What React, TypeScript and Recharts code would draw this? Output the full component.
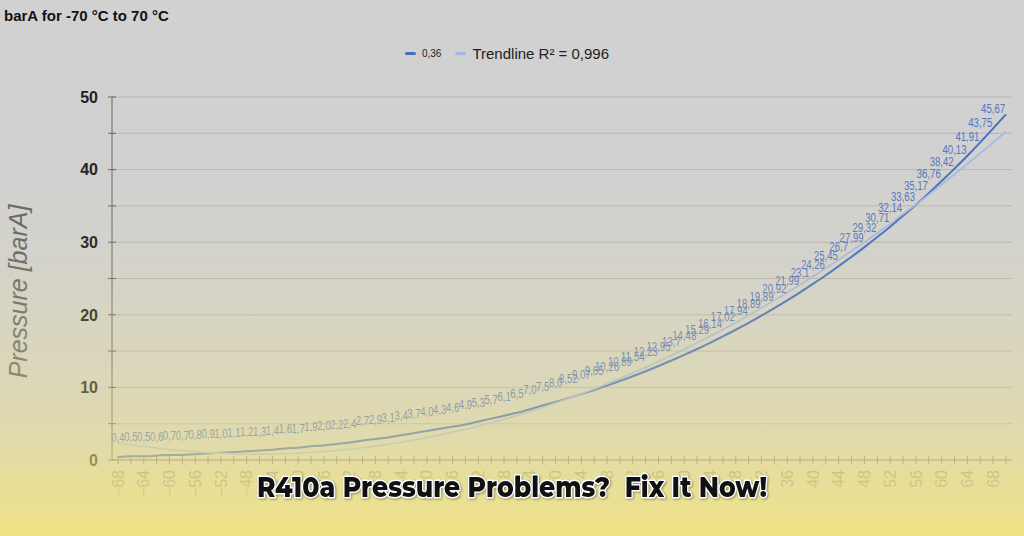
import React from 'react';
import { LineChart, Line, XAxis, YAxis, CartesianGrid, Legend, LabelList } from 'recharts';

const temperatures = [-68, -66, -64, -62, -60, -58, -56, -54, -52, -50, -48, -46, -44, -42, -40, -38, -36, -34, -32, -30, -28, -26, -24, -22, -20, -18, -16, -14, -12, -10, -8, -6, -4, -2, 0, 2, 4, 6, 8, 10, 12, 14, 16, 18, 20, 22, 24, 26, 28, 30, 32, 34, 36, 38, 40, 42, 44, 46, 48, 50, 52, 54, 56, 58, 60, 62, 64, 66, 68, 70];
const pressures = [0.4, 0.5, 0.5, 0.6, 0.7, 0.7, 0.8, 0.9, 1.0, 1.1, 1.2, 1.3, 1.4, 1.6, 1.7, 1.9, 2.0, 2.2, 2.4, 2.7, 2.9, 3.1, 3.4, 3.7, 4.0, 4.3, 4.6, 4.9, 5.3, 5.7, 6.1, 6.5, 7.0, 7.5, 8.0, 8.52, 9.07, 9.65, 10.26, 10.89, 11.54, 12.23, 12.95, 13.7, 14.48, 15.29, 16.14, 17.02, 17.94, 18.89, 19.89, 20.92, 21.99, 23.1, 24.26, 25.45, 26.7, 27.99, 29.32, 30.71, 32.14, 33.63, 35.17, 36.76, 38.42, 40.13, 41.91, 43.75, 45.67, 47.6];
const trendline = [2.37, 2.09, 1.85, 1.63, 1.43, 1.27, 1.13, 1.01, 0.92, 0.86, 0.82, 0.81, 0.83, 0.87, 0.94, 1.04, 1.16, 1.31, 1.48, 1.68, 1.91, 2.16, 2.44, 2.75, 3.08, 3.44, 3.83, 4.24, 4.67, 5.14, 5.63, 6.14, 6.69, 7.26, 7.85, 8.47, 9.12, 9.79, 10.49, 11.22, 11.97, 12.75, 13.56, 14.39, 15.25, 16.13, 17.04, 17.98, 18.94, 19.93, 20.95, 21.99, 23.06, 24.15, 25.27, 26.42, 27.59, 28.79, 30.02, 31.27, 32.55, 33.86, 35.19, 36.55, 37.93, 39.34, 40.78, 42.24, 43.73, 45.24];
const yTicks = [0, 5, 10, 15, 20, 25, 30, 35, 40, 45, 50];
const seriesNames = ['0,36', 'Trendline R² = 0,996'];
const chartTitle = 'barA for -70 °C to 70 °C';
const yAxisTitle = 'Pressure [barA]';
const headline = 'R410a Pressure Problems?  Fix It Now!';

const data = temperatures.map((t, i) => ({ t, p: pressures[i], trend: trendline[i] }));

const MAIN = '#4570c6';
const TREND = '#a3b7e0';

const fmtComma = (v: number) => (Number.isInteger(v) ? v.toFixed(1) : String(v)).replace('.', ',');
const fmtTemp = (v: number) => (v < 0 ? '\u2212' + Math.abs(v) : String(v));

const XTick = (props: any) => {
  const { x, y, payload, index } = props;
  const axisY = y - 10;
  return (
    <g>
      <line x1={x} x2={x} y1={axisY - 4} y2={axisY + 4} stroke="#777" strokeWidth={1} />
      {index % 2 === 0 && (
        <text
          x={x}
          y={y}
          transform={`rotate(-90 ${x} ${y})`}
          textAnchor="end"
          dy="0.35em"
          fontSize={16}
          fontFamily="'Liberation Sans', Arial, sans-serif"
          fill="#8c8c8c"
        >
          {fmtTemp(payload.value)}
        </text>
      )}
    </g>
  );
};

const YTick = (props: any) => {
  const { x, y, payload } = props;
  const axisX = x + 14;
  return (
    <g>
      <line x1={axisX - 4} x2={axisX + 4} y1={y} y2={y} stroke="#666" strokeWidth={1} />
      {payload.value % 10 === 0 && (
        <text
          x={x}
          y={y}
          textAnchor="end"
          dy="0.36em"
          fontSize={16}
          fontWeight="bold"
          fontFamily="'Liberation Sans', Arial, sans-serif"
          fill="#222"
        >
          {payload.value}
        </text>
      )}
    </g>
  );
};

const DataLabel = (props: any) => {
  const { x, y, value, index } = props;
  if (index === pressures.length - 1) return null;
  const s = fmtComma(value);
  const fs = 12;
  let em = 0;
  for (const ch of s) em += ch === ',' ? 0.278 : 0.556;
  const len = em * fs * 0.8;
  return (
    <text
      x={x}
      y={y - 15}
      textAnchor="middle"
      fontSize={fs}
      textLength={len}
      lengthAdjust="spacingAndGlyphs"
      fontFamily="'Liberation Sans', Arial, sans-serif"
      fill="#5474c4"
    >
      {s}
    </text>
  );
};

const LegendContent = (props: any) => {
  const payload = props.payload || [];
  return (
    <div style={{ display: 'flex', justifyContent: 'center', alignItems: 'center', fontFamily: "'Liberation Sans', Arial, sans-serif", color: '#222' }}>
      {payload.map((entry: any, i: number) => (
        <div key={i} style={{ display: 'flex', alignItems: 'center', marginRight: i === 0 ? 14 : 0 }}>
          <span style={{ display: 'inline-block', width: 11, height: 3, borderRadius: 2, background: entry.color, marginRight: 6 }} />
          <span style={{ fontSize: i === 0 ? 10 : 15 }}>{entry.value}</span>
        </div>
      ))}
    </div>
  );
};

const YLabel = (p: any) => {
  const vb = p.viewBox || { y: 97, height: 363 };
  const cy = vb.y + vb.height / 2 + 13;
  return (
    <text
      x={18}
      y={cy}
      transform={`rotate(-90 18 ${cy})`}
      textAnchor="middle"
      dy="0.35em"
      fontSize={25}
      fontStyle="italic"
      fontFamily="'Liberation Sans', Arial, sans-serif"
      fill="#666"
    >
      {yAxisTitle}
    </text>
  );
};

export default function App() {
  return (
    <div style={{ position: 'absolute', left: 0, top: 0, width: 1024, height: 536, background: '#d1d1d1', overflow: 'hidden' }}>
      <div style={{ position: 'absolute', left: 4, top: 7, fontFamily: "'Liberation Sans', Arial, sans-serif", fontWeight: 'bold', fontSize: 15, color: '#111' }}>
        {chartTitle}
      </div>
      <LineChart width={1024} height={536} data={data} margin={{ top: 97, right: 12, bottom: 36, left: 0 }}>
        <CartesianGrid vertical={false} stroke="#b6b6b6" />
        <XAxis
          dataKey="t"
          type="category"
          interval={0}
          padding={{ left: 6, right: 6 }}
          height={40}
          tickSize={0}
          tickMargin={10}
          tick={<XTick />}
          axisLine={{ stroke: '#777' }}
          tickLine={false}
        />
        <YAxis
          type="number"
          domain={[0, 50]}
          ticks={yTicks}
          width={112}
          tickSize={0}
          tickMargin={14}
          tick={<YTick />}
          axisLine={{ stroke: '#666' }}
          tickLine={false}
          interval={0}
          label={{ value: yAxisTitle, content: YLabel }}
        />
        <Legend
          layout="vertical"
          verticalAlign="middle"
          align="center"
          wrapperStyle={{ top: 45, left: 0, width: 1014, height: 20 }}
          content={<LegendContent />}
        />
        <Line
          type="monotone"
          dataKey="p"
          name={seriesNames[0]}
          stroke={MAIN}
          strokeWidth={2}
          dot={false}
          isAnimationActive={false}
        >
          <LabelList dataKey="p" content={<DataLabel />} />
        </Line>
        <Line
          type="monotone"
          dataKey="trend"
          name={seriesNames[1]}
          stroke={TREND}
          strokeWidth={1.6}
          dot={false}
          isAnimationActive={false}
        />
      </LineChart>
      <div
        style={{
          position: 'absolute',
          left: 0,
          top: 0,
          width: 1024,
          height: 536,
          pointerEvents: 'none',
          background:
            'linear-gradient(to bottom, rgba(243,229,126,0) 0%, rgba(243,229,126,0) 28%, rgba(243,229,126,0.06) 46%, rgba(243,229,126,0.15) 56%, rgba(243,229,126,0.3) 71%, rgba(243,229,126,0.45) 82%, rgba(243,229,126,0.7) 91.5%, rgba(243,229,126,0.9) 100%)',
        }}
      />
      <svg width={1024} height={536} style={{ position: 'absolute', left: 0, top: 0, pointerEvents: 'none' }}>
        <text
          x={512}
          y={497}
          textAnchor="middle"
          textLength={510}
          lengthAdjust="spacingAndGlyphs"
          fontSize={29}
          fontWeight={800}
          fontFamily="Montserrat, 'Open Sans', 'Liberation Sans', sans-serif"
          fill="#111"
          stroke="#fff"
          strokeWidth={3}
          strokeLinejoin="round"
          style={{ paintOrder: 'stroke', whiteSpace: 'pre', filter: 'drop-shadow(1px 1px 1px rgba(0,0,0,0.35))' }}
        >
          {headline}
        </text>
      </svg>
    </div>
  );
}
